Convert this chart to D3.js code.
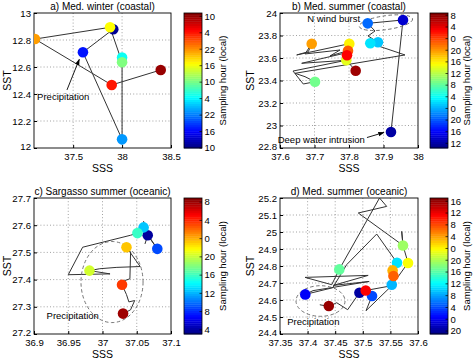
<!DOCTYPE html>
<html><head><meta charset="utf-8">
<script src="https://cdn.jsdelivr.net/npm/d3@7"></script>
<style>
body{margin:0;background:#fff;}
text{font-family:"Liberation Sans",Arial,sans-serif;fill:#000;}
</style></head><body>
<svg id="chart" width="474" height="358"></svg>
<script>
// ---------------- DATA ----------------
// Sampling hours are cumulative local hours (label = hour mod 24)
// Panel a) Med. winter (coastal)
const aTitle = "a) Med. winter (coastal)";
const aSSS  = [37.91, 37.60, 38.00, 38.00, 38.00, 37.877, 37.11, 37.894, 38.395];
const aSST  = [12.88, 12.709, 12.064, 12.67, 12.635, 12.894, 12.807, 12.467, 12.578];
const aHour = [11, 17, 23.5, 29, 34.6, 40.75, 45.5, 52, 58];
const aTrackSSS = aSSS, aTrackSST = aSST;
const aXTicks = [37.5, 38, 38.5];
const aYTicks = [12, 12.2, 12.4, 12.6, 12.8, 13];
const aCbarTicks = [10, 16, 22, 28, 34, 40, 46, 52, 58];
const aCbarLabels = ["10", "16", "22", "4", "10", "16", "22", "4", "10"];

// Panel b) Med. summer (coastal)
const bTitle = "b) Med. summer (coastal)";
const bSSS  = [37.9217, 37.9565, 37.8542, 37.884, 37.8617, 37.7014, 37.7922, 37.8009, 37.6919, 37.7971, 37.7942, 37.8194];
const bSST  = [22.942, 23.938, 23.908, 23.740, 23.731, 23.389, 23.580, 23.727, 23.727, 23.665, 23.624, 23.487];
const bHour = [12, 14, 21, 25.2, 26.6, 33, 38.2, 40, 43.8, 47, 51, 55.4];
const bTrackSSS = [37.9217, 37.9565, 37.8542, 37.8754, 37.8551, 37.884, 37.8617, 37.9623, 37.6435, 37.6725, 37.7014, 37.6675, 37.6377, 37.7922, 37.6629, 37.7933, 37.8009, 37.6484, 37.682, 37.6919, 37.6725, 37.7304, 37.7739, 37.7449, 37.7971, 37.7942, 37.7922, 37.8194];
const bTrackSST = [22.942, 23.938, 23.908, 23.84, 23.796, 23.74, 23.731, 23.627, 23.464, 23.434, 23.389, 23.369, 23.484, 23.58, 23.553, 23.647, 23.727, 23.627, 23.656, 23.727, 23.636, 23.656, 23.671, 23.618, 23.665, 23.624, 23.58, 23.487];
const bXTicks = [37.6, 37.7, 37.8, 37.9, 38];
const bYTicks = [22.8, 23, 23.2, 23.4, 23.6, 23.8, 24];
const bCbarTicks = [12, 16, 20, 24, 28, 32, 36, 40, 44, 48, 52, 56];
const bCbarLabels = ["12", "16", "20", "0", "4", "8", "12", "16", "20", "0", "4", "8"];

// Panel c) Sargasso summer (oceanic)
const cTitle = "c) Sargasso summer (oceanic)";
const cSSS  = [37.066, 37.080, 37.060, 37.051, 36.981, 37.035, 37.0285, 37.030];
const cSST  = [27.563, 27.513, 27.592, 27.571, 27.433, 27.519, 27.381, 27.275];
const cHour = [4, 9, 12.6, 15.9, 20.4, 23.4, 27.5, 32];
const cTrackSSS = [37.062, 37.066, 37.080, 37.0635, 37.060, 37.060, 37.051, 37.041, 36.971, 36.950, 37.011, 36.981, 36.996, 37.021, 37.055, 37.035, 37.041, 37.040, 37.032, 37.0285, 37.035, 37.0385, 37.047, 37.041, 37.0305];
const cTrackSST = [27.531, 27.563, 27.513, 27.575, 27.614, 27.592, 27.571, 27.563, 27.519, 27.418, 27.421, 27.433, 27.44, 27.445, 27.448, 27.519, 27.501, 27.403, 27.396, 27.381, 27.345, 27.318, 27.323, 27.289, 27.275];
const cXTicks = [36.9, 36.95, 37, 37.05, 37.1];
const cYTicks = [27.2, 27.3, 27.4, 27.5, 27.6, 27.7];
const cCbarTicks = [4, 8, 12, 16, 20, 24, 28, 32];
const cCbarLabels = ["4", "8", "12", "16", "20", "0", "4", "8"];

// Panel d) Med. summer (oceanic)
const dTitle = "d) Med. summer (oceanic)";
const dSSS  = [37.4939, 37.3958, 37.5167, 37.5525, 37.562, 37.4574, 37.5728, 37.5819, 37.554, 37.5555, 37.5053, 37.4384];
const dSST  = [24.643, 24.633, 24.6235, 24.690, 24.819, 24.780, 24.921, 24.818, 24.774, 24.741, 24.656, 24.565];
const dHour = [20.5, 24.5, 28, 33, 35, 40.7, 43.4, 47.6, 51.3, 55, 59.5, 64];
const dTrackSSS = [37.5167, 37.5058, 37.5524, 37.5819, 37.5728, 37.5705, 37.5728, 37.4918, 37.5433, 37.5303, 37.4574, 37.4437, 37.3953, 37.5097, 37.4466, 37.5115, 37.4098, 37.3958, 37.4455, 37.4708, 37.5252, 37.562, 37.5542, 37.5493, 37.556, 37.5524, 37.5053, 37.4939, 37.4726, 37.4527, 37.4387, 37.4221];
const dTrackSST = [24.6235, 24.537, 24.684, 24.819, 24.921, 25.0035, 24.921, 25.1118, 25.1506, 25.2, 24.78, 24.69, 24.733, 24.7447, 24.686, 24.709, 24.655, 24.633, 24.672, 24.808, 24.988, 24.819, 24.774, 24.743, 24.741, 24.684, 24.656, 24.643, 24.543, 24.584, 24.562, 24.572];
const dXTicks = [37.35, 37.4, 37.45, 37.5, 37.55, 37.6];
const dYTicks = [24.4, 24.5, 24.6, 24.7, 24.8, 24.9, 25, 25.1, 25.2];
const dCbarTicks = [20, 24, 28, 32, 36, 40, 44, 48, 52, 56, 60, 64];
const dCbarLabels = ["20", "0", "4", "8", "12", "16", "20", "0", "4", "8", "12", "16"];

// Annotations (data coordinates)
const aNotes = [{text: "Precipitation", sss: 37.399, sst: 12.38, anchor: "middle"}];
const aArrows = [{from: [37.437, 12.43], to: [37.563, 12.657]}];
const bNotes = [{text: "N wind burst", sss: 37.832, sst: 23.953, anchor: "end"},
                {text: "Deep water intrusion", sss: 37.846, sst: 22.877, anchor: "end"}];
const bArrows = [{from: [37.852, 22.893], to: [37.9014, 22.938]}];
const bEllipses = [{sss: 37.907, sst: 23.914, rsss: 0.078, rsst: 0.062, rot: -8}];
const cNotes = [{text: "Precipitation", sss: 36.9565, sst: 27.267, anchor: "middle"}];
const cEllipses = [{sss: 37.0139, sst: 27.391, rsss: 0.0453, rsst: 0.149, rot: 0}];
const dNotes = [{text: "Precipitation", sss: 37.4103, sst: 24.474, anchor: "middle"}];
const dEllipses = [{sss: 37.4234, sst: 24.594, rsss: 0.0444, rsst: 0.09, rot: 0}];

// ---------------- DRAWING ----------------
function jet(t) {
  t = Math.max(0, Math.min(1, t));
  const f = x => Math.round(255 * Math.max(0, Math.min(1, x)));
  return `rgb(${f(1.5 - Math.abs(4*t - 3))},${f(1.5 - Math.abs(4*t - 2))},${f(1.5 - Math.abs(4*t - 1))})`;
}
const fmt = d => String(+d.toFixed(3));
const svg = d3.select("#chart");
const defs = svg.append("defs");
defs.append("marker").attr("id", "arr").attr("viewBox", "0 0 10 10").attr("refX", 9).attr("refY", 5)
  .attr("markerWidth", 7).attr("markerHeight", 7).attr("orient", "auto-start-reverse")
  .append("path").attr("d", "M0,1.5 L10,5 L0,8.5 Z").attr("fill", "#000");

const panels = [
  {title: aTitle, sss: aSSS, sst: aSST, hour: aHour, tSSS: aTrackSSS, tSST: aTrackSST,
   xd: [37.1, 38.5], yd: [12, 13], xt: aXTicks, yt: aYTicks, cd: [10, 59.2], ct: aCbarTicks, cl: aCbarLabels,
   notes: aNotes, arrows: aArrows, ells: [],
   box: [34, 171, 13, 148], cb: [184, 202], sstOff: 27, cbLab: 223},
  {title: bTitle, sss: bSSS, sst: bSST, hour: bHour, tSSS: bTrackSSS, tSST: bTrackSST,
   xd: [37.6, 38], yd: [22.8, 24], xt: bXTicks, yt: bYTicks, cd: [10.4, 56.8], ct: bCbarTicks, cl: bCbarLabels,
   notes: bNotes, arrows: bArrows, ells: bEllipses,
   box: [280, 418, 13, 148], cb: [430, 448], sstOff: 30, cbLab: 467},
  {title: cTitle, sss: cSSS, sst: cSST, hour: cHour, tSSS: cTrackSSS, tSST: cTrackSST,
   xd: [36.9, 37.1], yd: [27.2, 27.7], xt: cXTicks, yt: cYTicks, cd: [3.1, 32.9], ct: cCbarTicks, cl: cCbarLabels,
   notes: cNotes, arrows: [], ells: cEllipses,
   box: [34, 171, 198, 334], cb: [184, 202], sstOff: 27, cbLab: 223},
  {title: dTitle, sss: dSSS, sst: dSST, hour: dHour, tSSS: dTrackSSS, tSST: dTrackSST,
   xd: [37.35, 37.6], yd: [24.4, 25.2], xt: dXTicks, yt: dYTicks, cd: [19, 65.1], ct: dCbarTicks, cl: dCbarLabels,
   notes: dNotes, arrows: [], ells: dEllipses,
   box: [280, 418, 198, 334], cb: [430, 448], sstOff: 30, cbLab: 467}
];

panels.forEach((p, pi) => {
  const [x0, x1, y0, y1] = p.box;
  const x = d3.scaleLinear().domain(p.xd).range([x0, x1]);
  const y = d3.scaleLinear().domain(p.yd).range([y1, y0]);
  const g = svg.append("g");
  const clipId = "clip" + pi;
  defs.append("clipPath").attr("id", clipId).append("rect")
    .attr("x", x0).attr("y", y0).attr("width", x1 - x0).attr("height", y1 - y0);

  // grid
  const grid = g.append("g").attr("stroke", "#8a8a8a").attr("stroke-width", 0.8).attr("stroke-dasharray", "1,2.2");
  grid.selectAll(".gx").data(p.xt.filter(v => Math.abs(x(v) - x0) > 1 && Math.abs(x(v) - x1) > 1)).join("line")
    .attr("x1", d => x(d)).attr("x2", d => x(d)).attr("y1", y0).attr("y2", y1);
  grid.selectAll(".gy").data(p.yt.filter(v => Math.abs(y(v) - y0) > 1 && Math.abs(y(v) - y1) > 1)).join("line")
    .attr("x1", x0).attr("x2", x1).attr("y1", d => y(d)).attr("y2", d => y(d));

  // axes
  const ax = g.append("g").attr("transform", `translate(0,${y1})`)
    .call(d3.axisBottom(x).tickValues(p.xt).tickFormat(fmt).tickSizeInner(-3).tickSizeOuter(0).tickPadding(5));
  const ay = g.append("g").attr("transform", `translate(${x0},0)`)
    .call(d3.axisLeft(y).tickValues(p.yt).tickFormat(fmt).tickSizeInner(-3).tickSizeOuter(0).tickPadding(3));
  [ax, ay].forEach(a => {
    a.select(".domain").remove();
    a.selectAll("text").attr("font-size", 9.6).attr("font-family", "Liberation Sans, Arial, sans-serif").attr("fill", "#000");
    a.selectAll("line").attr("stroke", "#000");
  });
  // lift the lowest y tick label slightly so it clears the x labels
  ay.selectAll(".tick text").filter(d => d === p.yt[0]).attr("dy", "0.2em");

  // box
  g.append("rect").attr("x", x0).attr("y", y0).attr("width", x1 - x0).attr("height", y1 - y0)
    .attr("fill", "none").attr("stroke", "#000").attr("stroke-width", 0.9);

  const plot = g.append("g").attr("clip-path", `url(#${clipId})`);
  // track line
  const pts = p.tSSS.map((s, i) => [s, p.tSST[i]]);
  plot.append("path").datum(pts)
    .attr("d", d3.line().x(d => x(d[0])).y(d => y(d[1])))
    .attr("fill", "none").attr("stroke", "#333").attr("stroke-width", 1);

  // ellipses
  p.ells.forEach(e => {
    const cx = x(e.sss), cy = y(e.sst);
    plot.append("ellipse").attr("cx", cx).attr("cy", cy)
      .attr("rx", Math.abs(x(e.sss + e.rsss) - cx)).attr("ry", Math.abs(y(e.sst + e.rsst) - cy))
      .attr("transform", `rotate(${e.rot},${cx},${cy})`)
      .attr("fill", "none").attr("stroke", "#666").attr("stroke-width", 0.9).attr("stroke-dasharray", "3.5,2.5");
  });

  // colour scale
  const cnorm = d3.scaleLinear().domain(p.cd).range([0, 1]);
  const dots = p.sss.map((s, i) => ({s, t: p.sst[i], h: p.hour[i]}));
  plot.selectAll("circle.dot").data(dots).join("circle").attr("class", "dot")
    .attr("cx", d => x(d.s)).attr("cy", d => y(d.t)).attr("r", 5.3)
    .attr("fill", d => jet(cnorm(d.h)));

  // notes
  p.notes.forEach(n => {
    g.append("text").attr("x", x(n.sss)).attr("y", y(n.sst)).attr("dy", "0.35em")
      .attr("text-anchor", n.anchor).attr("font-size", 9.5).text(n.text);
  });
  p.arrows.forEach(a => {
    g.append("line").attr("x1", x(a.from[0])).attr("y1", y(a.from[1]))
      .attr("x2", x(a.to[0])).attr("y2", y(a.to[1]))
      .attr("stroke", "#000").attr("stroke-width", 0.9).attr("marker-end", "url(#arr)");
  });

  // title & labels
  g.append("text").attr("x", (x0 + x1) / 2).attr("y", y0 - 3.5).attr("text-anchor", "middle")
    .attr("font-size", 10).text(p.title);
  g.append("text").attr("x", (x0 + x1) / 2).attr("y", y1 + 23.5).attr("text-anchor", "middle")
    .attr("font-size", 10.5).text("SSS");
  g.append("text").attr("transform", `translate(${x0 - p.sstOff},${(y0 + y1) / 2}) rotate(-90)`)
    .attr("text-anchor", "middle").attr("dy", "0.35em").attr("font-size", 10.5).text("SST");

  // colorbar
  const [c0, c1] = p.cb;
  const cy = d3.scaleLinear().domain(p.cd).range([y1, y0]);
  const n = 64, step = (p.cd[1] - p.cd[0]) / n;
  const bands = d3.range(n).map(i => p.cd[0] + i * step);
  g.append("g").selectAll("rect").data(bands).join("rect")
    .attr("x", c0).attr("width", c1 - c0)
    .attr("y", d => cy(d + step)).attr("height", d => cy(d) - cy(d + step) + 0.4)
    .attr("fill", (d, i) => jet((i + 0.5) / n));
  g.append("rect").attr("x", c0).attr("y", y0).attr("width", c1 - c0).attr("height", y1 - y0)
    .attr("fill", "none").attr("stroke", "#000").attr("stroke-width", 0.8);
  const ticks = p.ct.map((v, i) => ({v, l: p.cl[i]}));
  g.append("g").selectAll("line").data(ticks).join("line")
    .attr("x1", c1 - 2.5).attr("x2", c1).attr("y1", d => cy(d.v)).attr("y2", d => cy(d.v))
    .attr("stroke", "#000").attr("stroke-width", 0.7);
  g.append("g").selectAll("text").data(ticks).join("text")
    .attr("x", c1 + 2.5).attr("y", d => cy(d.v)).attr("dy", "0.35em")
    .attr("font-size", 9.5).text(d => d.l);
  g.append("text").attr("transform", `translate(${p.cbLab},${(y0 + y1) / 2}) rotate(-90)`)
    .attr("text-anchor", "middle").attr("dy", "0.35em").attr("font-size", 9.5).text("Sampling hour (local)");
});
</script>
</body></html>
